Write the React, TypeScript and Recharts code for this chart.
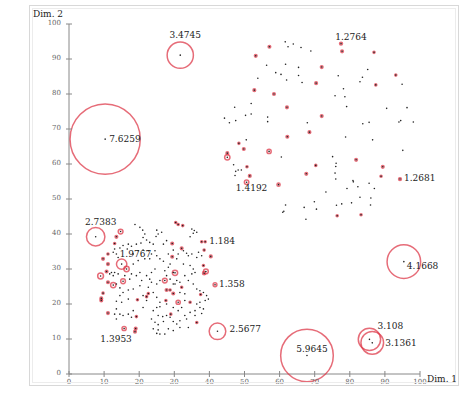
import { ScatterChart, Scatter, XAxis, YAxis } from 'recharts'

// plain points (LOF ~ 1, no visible ring)
const inlierPoints: [number, number][] = [
    [18.8, 42.7], [20.2, 41.9], [21.0, 41.1], [21.6, 40.0], [21.1, 39.0], [22.1, 38.3], [20.5, 37.4],
    [25.0, 41.1], [25.4, 40.0], [26.4, 40.5], [24.8, 39.3], [19.2, 37.1], [17.8, 36.5], [16.9, 37.1],
    [16.6, 35.7], [15.4, 36.7], [14.5, 36.0], [13.0, 35.7], [12.6, 34.8], [13.5, 34.3], [14.0, 33.3],
    [18.3, 34.3], [19.7, 35.2], [21.1, 35.4], [22.6, 35.2], [23.5, 34.3], [24.5, 35.2], [25.0, 33.8],
    [25.9, 32.9], [26.9, 32.2], [27.3, 29.5], [28.3, 30.5], [27.8, 28.1], [28.8, 27.1], [30.7, 26.7],
    [31.6, 26.2], [29.7, 25.7], [24.5, 30.0], [23.5, 29.0], [23.0, 27.1], [23.5, 26.2], [22.1, 28.1],
    [20.2, 29.0], [19.2, 28.1], [17.8, 28.6], [17.3, 27.1], [15.9, 28.1], [14.0, 28.6], [13.0, 29.0],
    [12.1, 29.0], [12.6, 28.1], [11.6, 28.6], [13.5, 25.7], [14.5, 24.6], [15.4, 23.3], [16.9, 24.0],
    [18.3, 24.3], [16.9, 21.4], [14.5, 22.4], [13.5, 20.8], [15.0, 20.5], [13.5, 18.6], [13.0, 17.1],
    [14.5, 17.1], [15.4, 16.7], [16.9, 17.1], [18.3, 18.1], [17.8, 16.2], [13.5, 15.7], [24.0, 18.1],
    [25.0, 19.0], [25.9, 19.2], [25.4, 16.7], [26.7, 16.4], [23.5, 15.7], [24.5, 14.8], [25.4, 14.1],
    [26.9, 15.0], [27.8, 16.7], [28.8, 16.2], [29.7, 15.0], [30.7, 14.3], [31.6, 15.2], [33.0, 16.7],
    [33.5, 15.7], [34.5, 17.6], [35.9, 18.1], [37.3, 19.0], [38.3, 18.6], [37.8, 17.3], [35.9, 16.7],
    [34.0, 13.3], [31.6, 13.3], [29.7, 12.4], [28.3, 12.9], [27.3, 11.4], [25.9, 11.4], [25.0, 11.6],
    [24.0, 12.9], [25.4, 12.6], [32.6, 35.2], [33.5, 34.5], [34.0, 33.8], [35.0, 34.3], [35.4, 40.2],
    [35.0, 41.4], [35.7, 41.0], [36.4, 40.5], [34.5, 39.2], [36.9, 34.8], [36.4, 33.3], [37.8, 33.8],
    [34.5, 31.0], [35.4, 30.0], [35.9, 29.0], [35.0, 28.6], [33.0, 28.1], [34.0, 26.7], [35.4, 25.7],
    [36.4, 24.3], [37.3, 23.8], [38.3, 23.3], [39.2, 22.4], [39.7, 21.4], [38.8, 21.0], [37.3, 20.5],
    [36.4, 20.0], [33.0, 21.0], [32.1, 19.0], [31.1, 18.1], [29.7, 19.0], [27.8, 20.0], [25.9, 20.5],
    [25.0, 21.9], [24.0, 23.3], [22.6, 24.8], [21.1, 22.4], [20.7, 26.7], [20.2, 25.2], [22.1, 21.0],
    [21.1, 19.0], [29.7, 35.4], [31.1, 34.3], [30.7, 32.9], [32.6, 31.4], [28.8, 31.4], [25.9, 26.7],
    [25.0, 25.7], [30.2, 25.7], [31.6, 23.3], [33.0, 22.9], [23.0, 32.9], [21.6, 32.9], [19.7, 32.4],
    [18.3, 31.4], [23.0, 37.6], [24.0, 37.1], [26.9, 37.1], [27.8, 38.1], [28.3, 34.3], [29.7, 29.0],
    // right cluster
    [61.6, 94.9], [62.4, 93.5], [63.9, 94.3], [66.1, 93.3], [68.9, 92.3], [56.3, 88.2], [58.9, 86.1],
    [60.4, 85.6], [61.7, 88.5], [62.0, 84.0], [65.4, 87.6], [65.4, 85.3], [66.4, 83.3], [53.8, 84.5],
    [51.9, 77.3], [47.2, 76.2], [50.3, 73.9], [51.9, 74.3], [44.3, 73.1], [45.7, 71.8], [47.5, 72.4],
    [56.6, 73.4], [56.6, 72.1], [67.9, 71.8], [60.5, 62.0], [76.7, 85.2], [78.2, 81.5], [75.8, 79.5],
    [78.6, 79.2], [79.1, 76.4], [85.1, 87.0], [83.6, 84.8], [82.9, 83.5], [94.9, 82.8], [90.5, 75.9],
    [96.3, 76.1], [83.7, 71.5], [85.5, 71.9], [94.0, 72.0], [94.5, 72.4], [98.1, 72.0], [78.8, 67.7],
    [86.5, 66.9], [95.1, 63.9], [75.1, 62.1], [76.1, 60.2], [76.0, 59.3], [75.8, 57.4], [76.0, 55.7],
    [80.9, 55.3], [81.0, 54.9], [73.2, 52.0], [50.5, 66.9], [46.9, 59.8], [47.5, 57.9], [48.2, 58.3],
    [49.1, 58.3], [47.3, 56.7], [79.2, 53.0], [82.3, 53.5], [85.5, 54.5], [87.0, 53.0], [82.9, 50.5],
    [86.0, 50.3], [61.7, 48.3], [60.9, 46.2], [61.2, 46.5], [67.0, 47.6], [67.5, 44.2], [69.9, 49.2],
    [70.5, 47.1], [76.2, 48.2], [77.7, 48.6], [80.5, 48.9], [85.9, 48.3],
]

// points with a small LOF ring: [x, y, score]
const mildPoints: [number, number, number][] = [
    [14.7, 40.7, 1.45], [13.5, 39.2, 1.25], [13.0, 37.3, 1.2], [11.1, 34.3, 1.2], [9.7, 32.9, 1.25],
    [11.1, 31.4, 1.25], [10.7, 29.3, 1.25], [9.0, 28.0, 1.55], [11.1, 26.2, 1.25], [12.6, 25.4, 1.5],
    [15.4, 26.5, 1.45], [16.4, 30.0, 1.5], [9.7, 23.1, 1.2], [9.2, 21.6, 1.25], [9.2, 21.0, 1.25],
    [11.1, 17.4, 1.25], [19.5, 21.2, 1.2], [19.0, 13.0, 1.25], [18.8, 12.1, 1.25], [19.2, 16.4, 1.2],
    [22.1, 22.1, 1.2], [22.6, 23.0, 1.2], [29.4, 37.3, 1.25], [30.4, 43.3, 1.2], [31.1, 42.7, 1.2],
    [32.4, 42.4, 1.2], [29.4, 33.5, 1.25], [32.1, 35.9, 1.25], [30.2, 28.9, 1.5], [27.3, 26.7, 1.45],
    [27.8, 24.0, 1.25], [28.8, 24.0, 1.2], [29.7, 23.0, 1.25], [27.6, 21.0, 1.2], [31.1, 20.5, 1.4],
    [34.5, 20.5, 1.2], [32.1, 24.8, 1.2], [38.5, 35.4, 1.2], [40.4, 33.6, 1.25], [37.8, 37.8, 1.2],
    [38.3, 31.0, 1.2], [38.5, 28.8, 1.3], [39.0, 29.3, 1.45], [29.0, 17.1, 1.2], [37.5, 22.7, 1.2],
    [36.4, 14.7, 1.2],
    // right cluster
    [57.1, 93.5, 1.25], [53.2, 90.9, 1.25], [52.8, 81.1, 1.25], [58.4, 80.0, 1.25], [62.1, 76.2, 1.25],
    [72.0, 87.7, 1.25], [70.4, 83.1, 1.25], [72.0, 73.7, 1.25], [68.5, 69.1, 1.25], [62.2, 67.8, 1.25],
    [57.0, 63.6, 1.4], [77.8, 92.2, 1.25], [86.9, 91.9, 1.2], [87.4, 82.6, 1.2], [93.1, 85.4, 1.2],
    [81.8, 61.2, 1.25], [89.4, 59.2, 1.25], [88.9, 56.5, 1.2], [70.3, 59.6, 1.2], [67.6, 57.2, 1.25],
    [59.7, 54.1, 1.3], [51.5, 56.6, 1.25], [50.7, 59.2, 1.2], [45.1, 61.9, 1.5], [45.1, 63.1, 1.25],
    [48.4, 65.9, 1.2], [49.8, 64.3, 1.25], [76.4, 45.2, 1.2], [83.2, 45.5, 1.2],
]

// points whose LOF score is written next to them: [x, y, score]
const labeledPoints: [number, number, number][] = [
    [10.3, 67.1, 7.6259], [31.7, 91.1, 3.4745], [77.5, 94.4, 1.2764], [94.3, 55.7, 1.2681],
    [50.6, 54.8, 1.4192], [7.6, 39.2, 2.7383], [15.0, 31.4, 1.9767], [38.8, 37.8, 1.184],
    [41.6, 25.5, 1.358], [15.7, 13.0, 1.3953], [42.3, 12.2, 2.5677], [67.8, 5.3, 5.9645],
    [95.4, 32.1, 4.1668], [85.6, 9.9, 3.108], [86.4, 8.9, 3.1361],
]

const axisTicks = [0, 10, 20, 30, 40, 50, 60, 70, 80, 90, 100]

// where each score label sits relative to its point (px)
const labelPlacement: Record<string, { dx: number; dy: number; anchor: 'start' | 'middle' | 'end' }> = {
    '7.6259': { dx: 4, dy: 3, anchor: 'start' },
    '3.4745': { dx: 5, dy: -17, anchor: 'middle' },
    '1.2764': { dx: 10, dy: -4, anchor: 'middle' },
    '1.2681': { dx: 4, dy: 2, anchor: 'start' },
    '1.4192': { dx: 5, dy: 9, anchor: 'middle' },
    '2.7383': { dx: 5, dy: -12, anchor: 'middle' },
    '1.9767': { dx: -2, dy: -7, anchor: 'start' },
    '1.184': { dx: 4, dy: 2, anchor: 'start' },
    '1.358': { dx: 4, dy: 2, anchor: 'start' },
    '1.3953': { dx: -8, dy: 13, anchor: 'middle' },
    '2.5677': { dx: 12, dy: 1, anchor: 'start' },
    '5.9645': { dx: 5, dy: -3, anchor: 'middle' },
    '4.1668': { dx: 3, dy: 7, anchor: 'start' },
    '3.108': { dx: 8, dy: -10, anchor: 'start' },
    '3.1361': { dx: 13, dy: 3, anchor: 'start' },
}

const RING_SCALE = 5.3
const SERIF = '"DejaVu Serif", serif'

const ringData = [...mildPoints, ...labeledPoints].map(([x, y, score]) => ({ x, y, score }))
const dotData = [
    ...inlierPoints.map(([x, y]) => ({ x, y })),
    ...mildPoints.map(([x, y]) => ({ x, y })),
    ...labeledPoints.map(([x, y]) => ({ x, y })),
]
const labelData = labeledPoints.map(([x, y, score]) => ({ x, y, label: String(score) }))

const Ring = (props: any) => {
    const { cx, cy, payload } = props
    const r = Math.max((payload.score - 1) * RING_SCALE, 0.8)
    return <circle cx={cx} cy={cy} r={r} fill="none" stroke="#dd3344" strokeOpacity={0.72} strokeWidth={1.5} />
}

const Dot = (props: any) => <circle cx={props.cx} cy={props.cy} r={0.8} fill="#222" />

const ScoreLabel = (props: any) => {
    const { cx, cy, payload } = props
    const p = labelPlacement[payload.label] || { dx: 4, dy: 3, anchor: 'start' }
    return (
        <text x={cx + p.dx} y={cy + p.dy} textAnchor={p.anchor} fontSize={9} fontFamily={SERIF} fill="#222">
            {payload.label}
        </text>
    )
}

const YTick = (props: any) => {
    const { x, y, payload } = props
    return (
        <g>
            <line x1={x - 3} x2={x + 3} y1={y} y2={y} stroke="#888" />
            <text x={x - 8} y={y + 0.5} textAnchor="end" fontSize={7} fontFamily={SERIF} fill="#666">
                {payload.value}
            </text>
        </g>
    )
}

const XTick = (props: any) => {
    const { x, y, payload } = props
    return (
        <g>
            <line x1={x} x2={x} y1={y - 3} y2={y + 3} stroke="#888" />
            <text x={x} y={y + 9.5} textAnchor="middle" fontSize={7} fontFamily={SERIF} fill="#666">
                {payload.value}
            </text>
        </g>
    )
}

export default function App() {
    return (
        <div style={{ position: 'absolute', left: 0, top: 0, width: 474, height: 398, background: '#fff' }}>
            <ScatterChart width={474} height={398} margin={{ top: 24, right: 54, bottom: 4, left: 29 }}>
                <XAxis
                    type="number"
                    dataKey="x"
                    domain={[0, 100]}
                    ticks={axisTicks}
                    height={20}
                    stroke="#888"
                    tickLine={false}
                    tickSize={0}
                    tickMargin={0}
                    tick={<XTick />}
                />
                <YAxis
                    type="number"
                    dataKey="y"
                    domain={[0, 100]}
                    ticks={axisTicks}
                    width={40}
                    stroke="#888"
                    tickLine={false}
                    tickSize={0}
                    tickMargin={0}
                    tick={<YTick />}
                />
                <Scatter data={ringData} shape={<Ring />} isAnimationActive={false} />
                <Scatter data={dotData} shape={<Dot />} isAnimationActive={false} />
                <Scatter data={labelData} shape={<ScoreLabel />} isAnimationActive={false} />
            </ScatterChart>
            <svg width={474} height={398} style={{ position: 'absolute', left: 0, top: 0, pointerEvents: 'none' }}>
                <rect x={29.5} y={5.5} width={429} height={380} fill="none" stroke="#d8d8d8" />
                <rect x={32.5} y={8.5} width={423} height={374} fill="none" stroke="#ececec" />
                <text x={33} y={17} fontSize={9} fontFamily={SERIF} fill="#222">Dim. 2</text>
                <text x={427} y={382} fontSize={9} fontFamily={SERIF} fill="#222">Dim. 1</text>
            </svg>
        </div>
    )
}
